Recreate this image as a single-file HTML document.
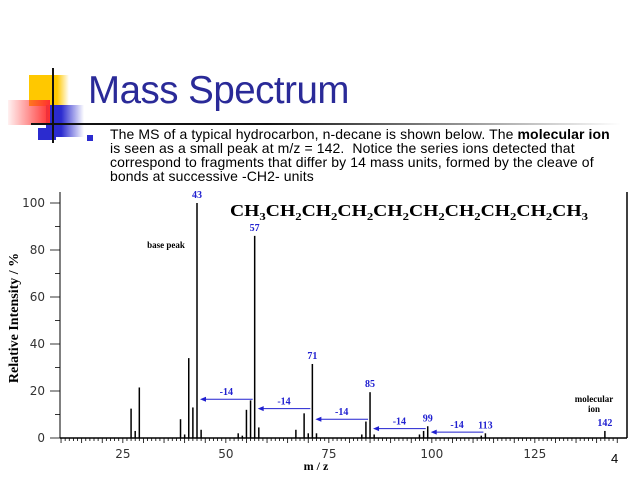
<!DOCTYPE html>
<html><head><meta charset="utf-8"><style>
body{margin:0;width:638px;height:478px;background:#fff;overflow:hidden;position:relative;font-family:"Liberation Sans",sans-serif}
.a{position:absolute}
.ln{display:block;white-space:nowrap}
</style></head><body>
<div class="a" style="left:29px;top:75px;width:40px;height:31px;background:linear-gradient(90deg,#ffc800 70%,rgba(255,220,80,0))"></div>
<div class="a" style="left:46px;top:105px;width:38px;height:32px;background:linear-gradient(90deg,#2b2bcf 40%,rgba(60,60,220,0))"></div>
<div class="a" style="left:38px;top:128px;width:18px;height:12px;background:#2b2bcf"></div>
<div class="a" style="left:8px;top:100px;width:42px;height:25px;background:linear-gradient(90deg,rgba(255,120,120,0.1),#ff3030)"></div>
<div class="a" style="left:52px;top:68px;width:2px;height:75px;background:#111"></div>
<div class="a" style="left:31px;top:123px;width:590px;height:2px;background:linear-gradient(90deg,#111 40%,rgba(0,0,0,0))"></div>
<div class="a" style="left:88px;top:69px;font-size:38.5px;color:#2a2a98;letter-spacing:-0.5px">Mass Spectrum</div>
<div class="a" style="left:87px;top:135px;width:6px;height:6px;background:#2b2bcf"></div>
<div class="a" style="left:110px;top:127px;font-size:14px;line-height:14px;letter-spacing:0.1px;color:#000">
<span class="ln">The MS of a typical hydrocarbon, n-decane is shown below. The <b>molecular ion</b></span>
<span class="ln">is seen as a small peak at m/z = 142.&nbsp; Notice the series ions detected that</span>
<span class="ln">correspond to fragments that differ by 14 mass units, formed by the cleave of</span>
<span class="ln">bonds at successive -CH2- units</span></div>
<div class="a" style="left:611px;top:451px;font-size:13px">4</div>
<svg class="a" style="left:0;top:0" width="638" height="478" id="chart"></svg>
<script>
const mzValues=[27,28,29,39,40,41,42,43,44,53,54,55,56,57,58,67,69,70,71,72,83,84,85,86,97,98,99,112,113,142];
const intensities=[12.5,3,21.5,8,1.5,34,13,100,3.5,2,1,12,16,86,4.5,3.5,10.5,2,31.5,2,1.5,7,19.5,1.5,1.5,3,5,1,2,3];
const peakLabels=[43,57,71,85,99,113,142];
const labelIntensity=[100,86,31.5,19.5,5,2,3];
const arrowFrom=[57,71,85,99,113];
const arrowTo=[43,57,71,85,99];
const arrowLevels=[16.5,12.5,8,4,2.5];
const yTicks=[0,20,40,60,80,100];
const xTicks=[25,50,75,100,125];
const svg=document.getElementById('chart');
const NS='http://www.w3.org/2000/svg';
const X=m=>197+(m-43)*4.12, Y=v=>438-v*2.35;
function mk(t,a,txt){const e=document.createElementNS(NS,t);for(const k in a)e.setAttribute(k,a[k]);if(txt!=null)e.textContent=txt;svg.appendChild(e);return e;}
let e;
e=mk('line',{x1:60,y1:438,x2:627,y2:438,stroke:'#000','stroke-width':1.5});

e=mk('line',{x1:60,y1:192,x2:60,y2:438,stroke:'#000','stroke-width':1});

e=mk('line',{x1:627,y1:192,x2:627,y2:438,stroke:'#000','stroke-width':1.5});

for(let m=9;m<=145;m++){const x=X(m);if(x<61||x>626)continue;
 e=mk('line',{x1:x,y1:438,x2:x,y2:m%5==0?443:441,stroke:'#000','stroke-width':0.8});
 }
xTicks.forEach(t=>{e=mk('text',{x:X(t),y:458,'font-size':12,'text-anchor':'middle',fill:'#333','font-family':'DejaVu Sans, sans-serif'},t);
 });
yTicks.forEach(t=>{e=mk('line',{x1:50,y1:Y(t),x2:60,y2:Y(t),stroke:'#000','stroke-width':0.8});
 
 e=mk('text',{x:45,y:Y(t)+4,'font-size':12,'text-anchor':'end',fill:'#333','font-family':'DejaVu Sans, sans-serif'},t);
 
 if(t<100){e=mk('line',{x1:55,y1:Y(t+10),x2:60,y2:Y(t+10),stroke:'#000','stroke-width':0.8});
 }});
mzValues.forEach((m,i)=>{e=mk('line',{x1:X(m),y1:438,x2:X(m),y2:Y(intensities[i]),stroke:'#000','stroke-width':1.5});
 });
peakLabels.forEach((m,i)=>{e=mk('text',{x:X(m),y:Y(labelIntensity[i])-5,'font-size':10,'font-weight':'bold','text-anchor':'middle',fill:'#2020d0','font-family':'Liberation Serif, serif'},m);
 });
arrowFrom.forEach((f,i)=>{const y=Y(arrowLevels[i]),x1=X(f)-2,x2=X(arrowTo[i])+3;
 e=mk('line',{x1:x1,y1:y,x2:x2+5,y2:y,stroke:'#2020d0','stroke-width':1});
 
 e=mk('polygon',{points:`${x2},${y} ${x2+6},${y-2.5} ${x2+6},${y+2.5}`,fill:'#2020d0'});
 
 e=mk('text',{x:(x1+x2)/2,y:y-4,'font-size':10,'font-weight':'bold','text-anchor':'middle',fill:'#2020d0','font-family':'Liberation Serif, serif'},'-14');
 });
e=mk('text',{x:166,y:248,'font-size':9,'font-weight':'bold','text-anchor':'middle','font-family':'Liberation Serif, serif'},'base peak');

e=mk('text',{x:594,y:402,'font-size':9,'font-weight':'bold','text-anchor':'middle','font-family':'Liberation Serif, serif'},'molecular');

e=mk('text',{x:594,y:412,'font-size':9,'font-weight':'bold','text-anchor':'middle','font-family':'Liberation Serif, serif'},'ion');

e=mk('text',{x:316,y:470,'font-size':12,'font-weight':'bold','text-anchor':'middle','font-family':'Liberation Serif, serif'},'m / z');

e=mk('text',{x:0,y:0,'font-size':14,'font-weight':'bold','text-anchor':'middle','font-family':'Liberation Serif, serif',transform:'translate(18,318) rotate(-90)'},'Relative Intensity / %');

e=mk('text',{x:230,y:216,'font-size':17,'font-weight':'bold','font-family':'Liberation Serif, serif',textLength:358,lengthAdjust:'spacingAndGlyphs'},'');

const parts=['CH','3','CH','2','CH','2','CH','2','CH','2','CH','2','CH','2','CH','2','CH','2','CH','3'];
parts.forEach((p,i)=>{const ts=document.createElementNS(NS,'tspan');ts.textContent=p;if(i%2){ts.setAttribute('dy','4');ts.setAttribute('font-size','11');}else if(i>0){ts.setAttribute('dy','-4');}e.appendChild(ts);});
</script>
</body></html>
